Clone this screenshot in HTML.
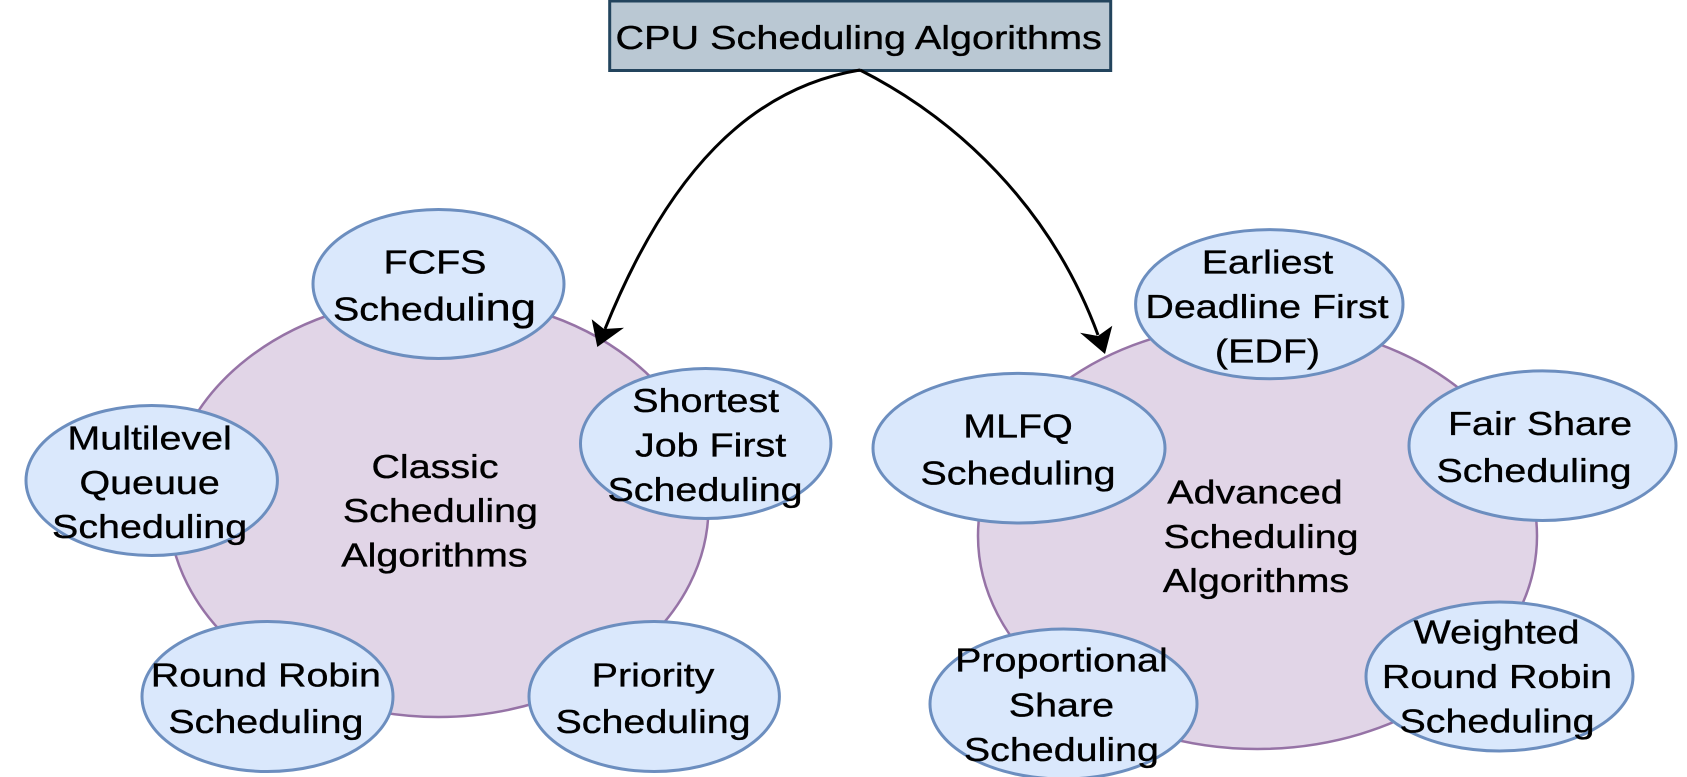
<!DOCTYPE html>
<html lang="en">
<head>
<meta charset="utf-8">
<title>CPU Scheduling Algorithms</title>
<style>
html,body{margin:0;padding:0;background:#fff;width:1687px;height:777px;overflow:hidden}
svg{display:block}
text{font-family:"Liberation Sans",sans-serif;font-size:33px;fill:#000;stroke:#000;stroke-width:.35;text-anchor:middle}
.c{fill:#e1d5e7;stroke:#9673a6;stroke-width:2.5}
.e{fill:#dae8fc;stroke:#6c8ebf;stroke-width:3}
.a{fill:none;stroke:#000;stroke-width:3}
</style>
</head>
<body>
<svg width="1687" height="777" viewBox="0 0 1687 777" xmlns="http://www.w3.org/2000/svg">
<rect width="1687" height="777" fill="#fff"/>
<ellipse class="c" cx="438.5" cy="507" rx="270" ry="210"/>
<ellipse class="c" cx="1257.5" cy="536" rx="279.5" ry="213"/>
<ellipse class="e" cx="438.5" cy="284" rx="125.5" ry="74.5"/>
<ellipse class="e" cx="705.7" cy="443.5" rx="125.2" ry="75"/>
<ellipse class="e" cx="151.7" cy="480.5" rx="125.7" ry="75"/>
<ellipse class="e" cx="267.5" cy="696.5" rx="125.5" ry="75"/>
<ellipse class="e" cx="654.2" cy="696.5" rx="125.2" ry="75"/>
<ellipse class="e" cx="1269.3" cy="304.2" rx="133.7" ry="74.6"/>
<ellipse class="e" cx="1542.5" cy="445.7" rx="133.5" ry="74.8"/>
<ellipse class="e" cx="1019" cy="448.2" rx="146" ry="74.8"/>
<ellipse class="e" cx="1499.5" cy="676.5" rx="133.5" ry="74.5"/>
<ellipse class="e" cx="1063.5" cy="704" rx="133.5" ry="75"/>
<rect x="609.7" y="1" width="501" height="69.5" fill="#bac8d3" stroke="#23445d" stroke-width="3"/>
<path class="a" d="M860 70C750 88 668 173 605 329"/>
<path class="a" d="M860 70C955 118 1050 205 1098 335"/>
<polygon points="597.3,347 591.7,319.3 604,329 624,327.7"/>
<polygon points="1105,354 1080,332.7 1098,336 1112.3,325.7"/>
<text transform="translate(858.7,49) scale(1.2,1)">CPU Scheduling Algorithms</text>
<text transform="translate(435,273.5) scale(1.195,1)">FCFS</text>
<text transform="translate(434.5,320.5) scale(1.195,1)">Schedul<tspan font-size="38">ing</tspan></text>
<text transform="translate(705.7,412) scale(1.195,1)">Shortest</text>
<text transform="translate(710.6,456.5) scale(1.195,1)">Job First</text>
<text transform="translate(705,501) scale(1.195,1)">Scheduling</text>
<text transform="translate(149.6,449.4) scale(1.195,1)">Multilevel</text>
<text transform="translate(149.6,493.8) scale(1.195,1)">Queuue</text>
<text transform="translate(149.6,538) scale(1.195,1)">Scheduling</text>
<text transform="translate(435,477.8) scale(1.195,1)">Classic</text>
<text transform="translate(440.4,522) scale(1.195,1)">Scheduling</text>
<text transform="translate(434.4,566.6) scale(1.195,1)">Algorithms</text>
<text transform="translate(265.9,686.4) scale(1.195,1)">Round Robin</text>
<text transform="translate(265.9,733) scale(1.195,1)">Scheduling</text>
<text transform="translate(653,686.4) scale(1.195,1)">Priority</text>
<text transform="translate(653,733) scale(1.195,1)">Scheduling</text>
<text transform="translate(1267.5,273.6) scale(1.195,1)">Earliest</text>
<text transform="translate(1267,318) scale(1.195,1)">Deadline First</text>
<text transform="translate(1267.5,362.4) scale(1.195,1)">(EDF)</text>
<text transform="translate(1018,437.7) scale(1.195,1)">MLFQ</text>
<text transform="translate(1018,484.6) scale(1.195,1)">Scheduling</text>
<text transform="translate(1540,435) scale(1.195,1)">Fair Share</text>
<text transform="translate(1534,482) scale(1.195,1)">Scheduling</text>
<text transform="translate(1255,503.4) scale(1.195,1)">Advanced</text>
<text transform="translate(1261,547.8) scale(1.195,1)">Scheduling</text>
<text transform="translate(1256,592) scale(1.195,1)">Algorithms</text>
<text transform="translate(1496.6,643.7) scale(1.195,1)">Weighted</text>
<text transform="translate(1497,688) scale(1.195,1)">Round Robin</text>
<text transform="translate(1497,732.5) scale(1.195,1)">Scheduling</text>
<text transform="translate(1061.4,671.4) scale(1.195,1)">Proportional</text>
<text transform="translate(1061.4,716.6) scale(1.195,1)">Share</text>
<text transform="translate(1061.4,761) scale(1.195,1)">Scheduling</text>
</svg>
</body>
</html>
